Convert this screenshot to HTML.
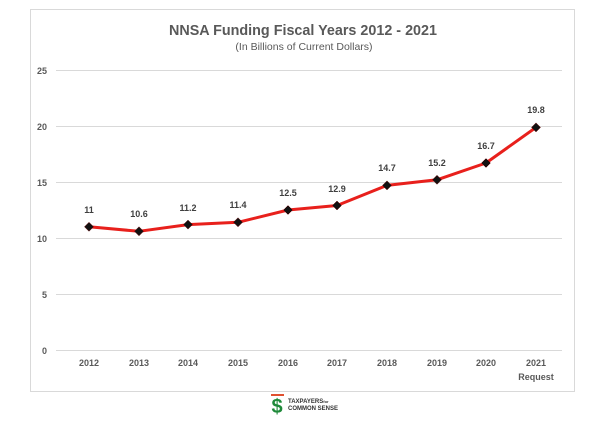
<!DOCTYPE html>
<html><head><style>
body{margin:0;background:#fff;width:600px;height:424px;overflow:hidden;font-family:"Liberation Sans",sans-serif}
</style></head><body>
<svg width="600" height="424" xmlns="http://www.w3.org/2000/svg" font-family="Liberation Sans, sans-serif">
<rect x="30.5" y="9.5" width="544" height="382" fill="#fff" stroke="#d9d9d9"/>
<text x="303" y="35" text-anchor="middle" font-size="15" font-weight="bold" fill="#595959" textLength="268" lengthAdjust="spacingAndGlyphs">NNSA Funding Fiscal Years 2012 - 2021</text>
<text x="304" y="50" text-anchor="middle" font-size="10.5" fill="#595959">(In Billions of Current Dollars)</text>
<g stroke="#d9d9d9" stroke-width="1">
<line x1="56" x2="562" y1="70.5" y2="70.5"/><line x1="56" x2="562" y1="126.5" y2="126.5"/>
<line x1="56" x2="562" y1="182.5" y2="182.5"/><line x1="56" x2="562" y1="238.5" y2="238.5"/>
<line x1="56" x2="562" y1="294.5" y2="294.5"/><line x1="56" x2="562" y1="350.5" y2="350.5"/>
</g>
<g font-size="9" font-weight="bold" fill="#595959" text-anchor="end">
<text x="47" y="74">25</text><text x="47" y="130">20</text><text x="47" y="186">15</text>
<text x="47" y="242">10</text><text x="47" y="298">5</text><text x="47" y="354">0</text>
</g>
<g font-size="9" font-weight="bold" fill="#595959" text-anchor="middle">
<text x="89" y="366">2012</text><text x="139" y="366">2013</text><text x="188" y="366">2014</text>
<text x="238" y="366">2015</text><text x="288" y="366">2016</text><text x="337" y="366">2017</text>
<text x="387" y="366">2018</text><text x="437" y="366">2019</text><text x="486" y="366">2020</text>
<text x="536" y="366">2021</text><text x="536" y="380">Request</text>
</g>
<polyline fill="none" stroke="#e8201c" stroke-width="3" stroke-linejoin="round" points="89,226.8 139,231.3 188,224.6 238,222.3 288,210 337,205.5 387,185.4 437,179.8 486,163 536,127.4"/>
<g fill="#111" stroke="#600" stroke-width="0.5">
<path d="M89,222.3l4.5,4.5l-4.5,4.5l-4.5,-4.5z"/><path d="M139,226.8l4.5,4.5l-4.5,4.5l-4.5,-4.5z"/>
<path d="M188,220.1l4.5,4.5l-4.5,4.5l-4.5,-4.5z"/><path d="M238,217.8l4.5,4.5l-4.5,4.5l-4.5,-4.5z"/>
<path d="M288,205.5l4.5,4.5l-4.5,4.5l-4.5,-4.5z"/><path d="M337,201l4.5,4.5l-4.5,4.5l-4.5,-4.5z"/>
<path d="M387,180.9l4.5,4.5l-4.5,4.5l-4.5,-4.5z"/><path d="M437,175.3l4.5,4.5l-4.5,4.5l-4.5,-4.5z"/>
<path d="M486,158.5l4.5,4.5l-4.5,4.5l-4.5,-4.5z"/><path d="M536,122.9l4.5,4.5l-4.5,4.5l-4.5,-4.5z"/>
</g>
<g font-size="9" font-weight="bold" fill="#404040" text-anchor="middle">
<text x="89" y="213">11</text><text x="139" y="217">10.6</text><text x="188" y="211">11.2</text>
<text x="238" y="208">11.4</text><text x="288" y="196">12.5</text><text x="337" y="192">12.9</text>
<text x="387" y="171">14.7</text><text x="437" y="166">15.2</text><text x="486" y="149">16.7</text>
<text x="536" y="113">19.8</text>
</g>
<rect x="271" y="394" width="13" height="2" fill="#e05030"/>
<text x="277" y="413" text-anchor="middle" font-size="20" font-weight="bold" fill="#1f8a3a">$</text>
<text x="288" y="403" font-size="6" font-weight="bold" fill="#333">TAXPAYERS<tspan font-size="4">for</tspan></text>
<text x="288" y="410" font-size="6" font-weight="bold" fill="#333">COMMON SENSE</text>
</svg>
</body></html>
